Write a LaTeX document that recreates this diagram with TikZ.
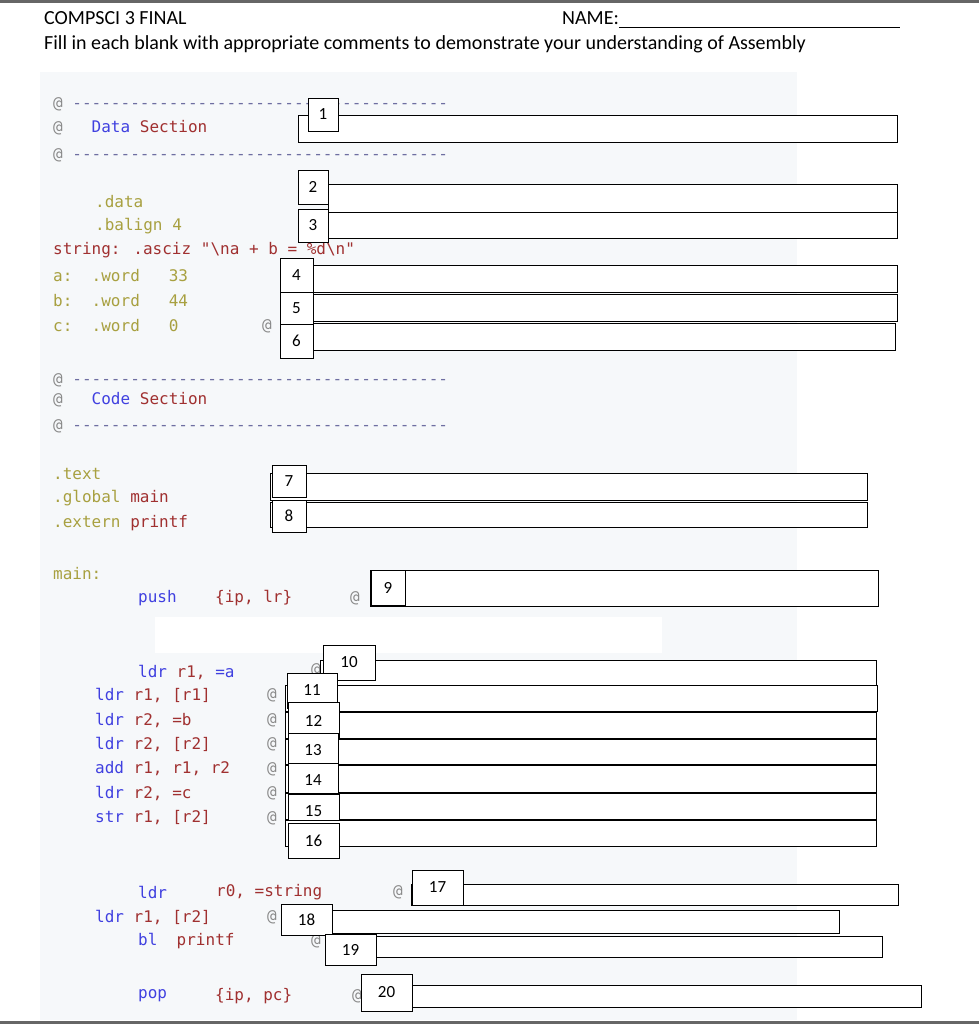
\documentclass[tikz,border=0pt]{standalone}
\usepackage{fontspec}
\setmainfont{Carlito}
\newfontfamily\codefont{DejaVu Sans Mono}
\definecolor{codebg}{HTML}{F6F8FA}
\definecolor{cmt}{HTML}{8A8A8A}
\definecolor{dir}{HTML}{A8A040}
\definecolor{kw}{HTML}{4040E0}
\definecolor{str}{HTML}{A03030}
\tikzset{
  code/.style={anchor=west, inner sep=0pt, font=\codefont\fontsize{16}{17}\selectfont},
  head/.style={anchor=west, inner sep=0pt, font=\fontsize{20}{21}\selectfont},
  numbox/.style={draw, fill=white, line width=0.9pt, inner sep=0pt, font=\fontsize{17}{18}\selectfont},
  ans/.style={draw, fill=white, line width=0.9pt},
}
\newcommand\dashrule{{\color{cmt!80!blue}---------------------------------------}}
\begin{document}
\begin{tikzpicture}[x=1pt,y=-1pt]
    \useasboundingbox (0,0) rectangle (979,1024);
    \fill[white] (0,0) rectangle (979,1024);
    \fill[gray!80!black] (0,0) rectangle (979,3);
    \fill[gray!80!black] (0,1021) rectangle (979,1024);

    % Header
    \node[head] (title) at (44,18) {COMPSCI 3 FINAL};
    \node[head] (name) at (562,18) {NAME:};
    \coordinate (u1) at (name.south east);
    \coordinate (u2) at (900,27);
    \draw[line width=0.8pt] (u1 |- u2) -- (u2);
    \node[head] (instr) at (44,44) {Fill in each blank with appropriate comments to demonstrate your understanding of Assembly};

    % Code background
    \fill[codebg] (40,72) rectangle (797,1020);
    \fill[white] (155,617) rectangle (662,653);

    % Data section
    \node[code, text=cmt] (h1) at (53,104) {@ \dashrule};
    \node[code] (h2) at (53,128) {\color{cmt}@\ \ \ {\color{kw}Data} {\color{str}Section}};
    \node[code, text=cmt] (h3) at (53,155) {@ \dashrule};
    \node[code, text=dir] (d1) at (95,202) {.data};
    \node[code, text=dir] (d2) at (95,226) {.balign 4};
    \node[code, text=str] (d3) at (53,250) {string: .asciz "\textbackslash na + b = \%d\textbackslash n"};
    \node[code, text=dir] (d4) at (53,276) {a:\ \ .word\ \ \ 33};
    \node[code, text=dir] (d5) at (53,301) {b:\ \ .word\ \ \ 44};
    \node[code, text=dir] (d6) at (53,326) {c:\ \ .word\ \ \ 0};
    \node[code, text=cmt] (at6) at (262,326) {@};

    % Code section
    \node[code, text=cmt] (h4) at (53,380) {@ \dashrule};
    \node[code] (h5) at (53,400) {\color{cmt}@\ \ \ {\color{kw}Code} {\color{str}Section}};
    \node[code, text=cmt] (h6) at (53,426) {@ \dashrule};
    \node[code, text=dir] (t1) at (53,474) {.text};
    \node[code] (t2) at (53,498) {\color{dir}.global {\color{str}main}};
    \node[code] (t3) at (53,523) {\color{dir}.extern {\color{str}printf}};
    \node[code, text=dir] (m0) at (53,574) {main:};
    \node[code, text=kw] (m1) at (138,598) {push};
    \node[code, text=str] (m1a) at (215,598) {\{ip, lr\}};
    \node[code, text=cmt] (m1b) at (350,598) {@};

    \node[code] (l1) at (138,672) {\color{kw}ldr {\color{str}r1,} =a};
    \node[code, text=cmt] (l1a) at (311,670) {@};
    \foreach \i/\y/\op/\args in {2/695/ldr/{r1, [r1]}, 3/720/ldr/{r2, =b}, 4/744/ldr/{r2, [r2]},
        5/769/add/{r1, r1, r2}, 6/793/ldr/{r2, =c}, 7/818/str/{r1, [r2]}} {
        \node[code, text=kw] (l\i) at (95,\y) {\op\ {\color{str}\args}};
        \node[code, text=cmt] (l\i a) at (267,\y) {@};
    }

    \node[code, text=kw] (p1) at (138,892) {ldr};
    \node[code, text=str] (p1a) at (216,892) {r0, =string};
    \node[code, text=cmt] (p1b) at (393,892) {@};
    \node[code, text=kw] (p2) at (95,917) {ldr {\color{str}r1, [r2]}};
    \node[code, text=cmt] (p2a) at (267,917) {@};
    \node[code, text=kw] (p3) at (138,941) {bl\ \ {\color{str}printf}};
    \node[code, text=cmt] (p3a) at (311,941) {@};
    \node[code, text=kw] (p4) at (138,996) {pop};
    \node[code, text=str] (p4a) at (215,996) {\{ip, pc\}};
    \node[code, text=cmt] (p4b) at (352,996) {@};

    % Answer blanks: number / box / answer line
    \foreach \n/\ax/\ay/\bx/\by/\cx/\cy/\dx/\dy in {
        1/298/115/897/142/308/98/338/131,
        2/328/184/897/212/298/170/328/204,
        3/328/212/897/238/298/209/328/242,
        4/313/265/897/292/280/258/313/292,
        5/313/294/897/321/280/292/313/324,
        6/313/323/895/350/280/324/313/358,
        7/270/473/867/500/272/465/306/497,
        8/270/502/867/527/272/500/306/532,
        9/370/570/878/606/371/570/405/605,
        10/320/660/876/686/323/645/375/680,
        11/285/685/877/711/287/673/337/708,
        12/285/712/876/738/288/702/339/739,
        13/285/739/876/764/288/733/338/768,
        14/285/765/876/792/288/763/338/798,
        15/285/793/876/819/288/794/339/828,
        16/285/820/876/846/288/823/339/858,
        17/411/884/898/905/412/870/463/905,
        18/332/910/839/933/281/904/332/935,
        19/325/936/882/957/325/934/376/965,
        20/411/985/921/1007/361/974/412/1011} {
        \draw[ans] (\ax,\ay) rectangle (\bx,\by);
        \node[numbox, minimum width={(\dx-\cx)*1pt}, minimum height={(\dy-\cy)*1pt}] (n\n) at ({(\cx+\dx)/2},{(\cy+\dy)/2}) {\n};
    }
\end{tikzpicture}
\end{document}
